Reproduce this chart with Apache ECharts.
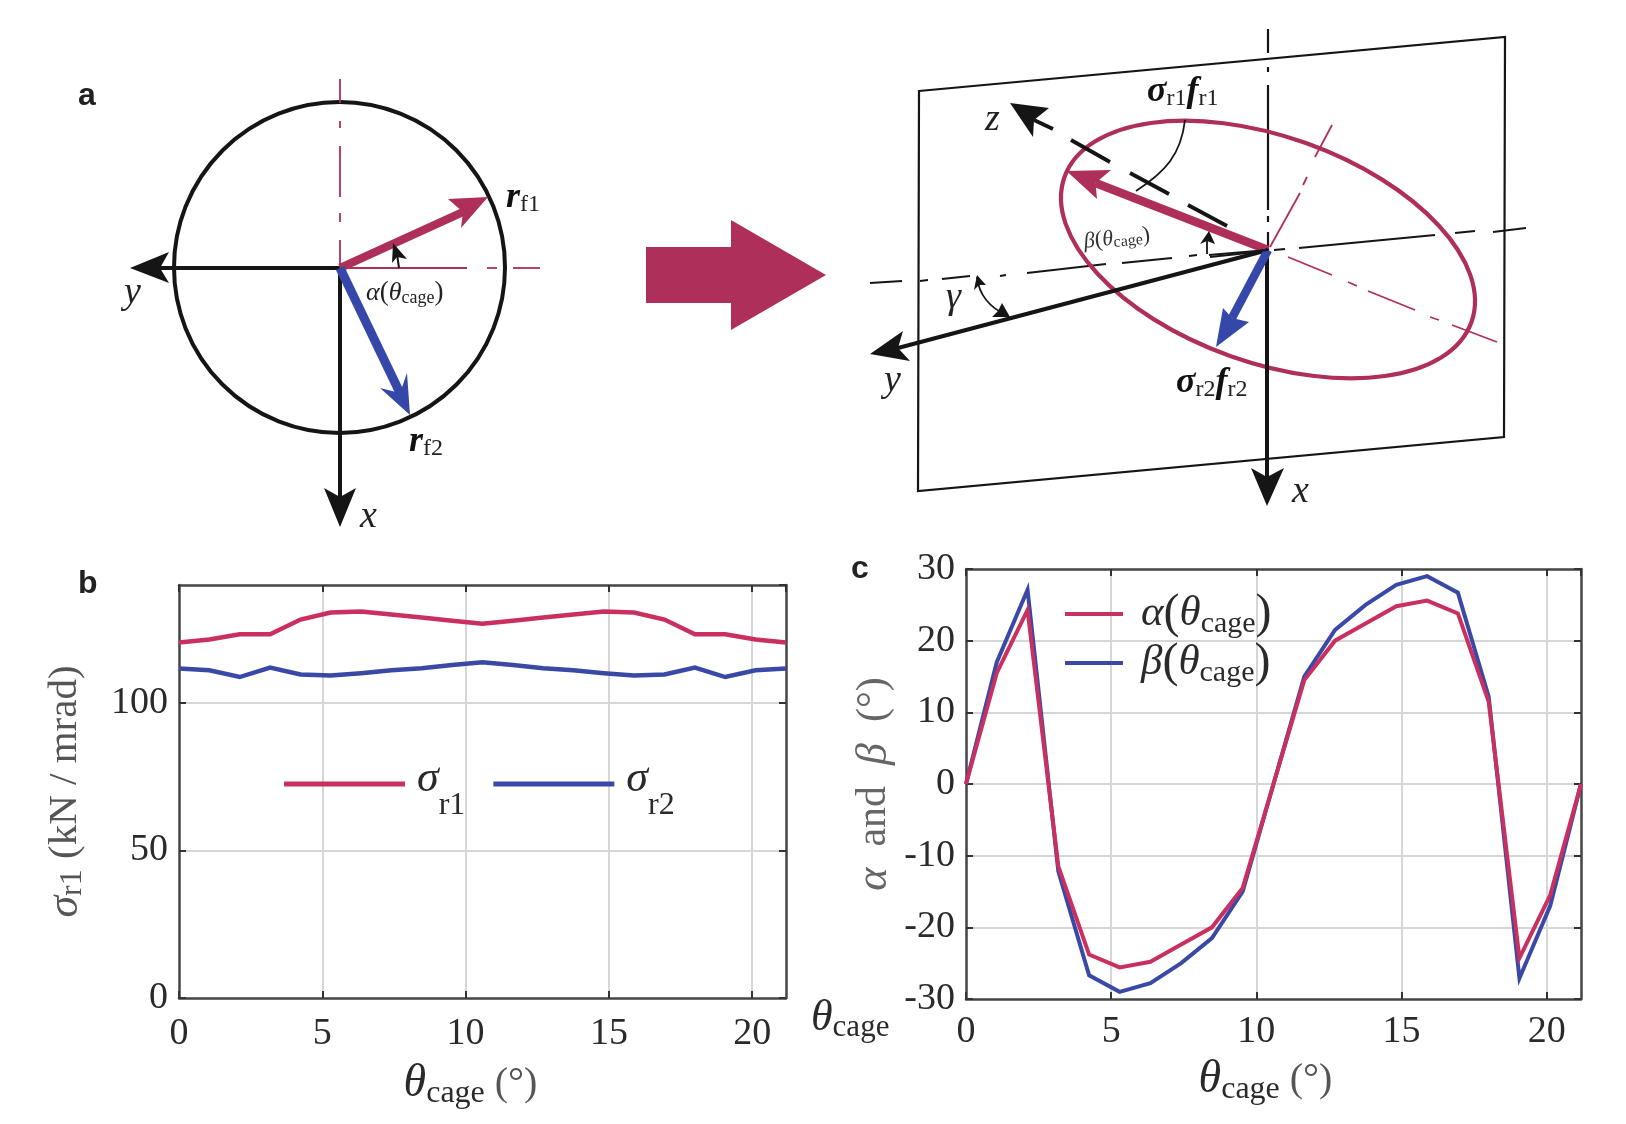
<!DOCTYPE html>
<html>
<head>
<meta charset="utf-8">
<style>html,body{margin:0;padding:0;background:#fff}#chart{width:1626px;height:1124px}</style>
<script src="https://cdn.jsdelivr.net/npm/echarts@6/dist/echarts.min.js"></script>
</head>
<body>
<div id="chart"></div>
<script>
// Cage angle over one ball pitch, degrees
const thetaCage = [0,1.06,2.12,3.18,4.24,5.29,6.35,7.41,8.47,9.53,10.59,11.65,12.71,13.76,14.82,15.88,16.94,18,19.06,20.12,21.18];
// Principal radial stiffness, kN/mrad
const sigmaR1 = [120.5,121.5,123.3,123.3,128.3,130.7,131,130,129,127.9,126.9,127.9,129,130,131,130.7,128.3,123.3,123.3,121.5,120.5];
const sigmaR2 = [111.7,111.1,108.8,112,109.7,109.3,110.1,111.1,111.8,112.9,113.8,112.9,111.8,111.1,110.1,109.3,109.7,112,108.8,111.1,111.7];
// Principal direction angles, degrees
const alphaDeg = [0,15.5,24.3,-11.5,-23.8,-25.6,-24.8,-22.4,-20,-14.5,0,14.5,20,22.4,24.8,25.6,23.8,11.5,-24.3,-15.5,0];
const betaDeg = [0,17,27.1,-12.2,-26.7,-29,-27.8,-25,-21.5,-15,0,15,21.5,25,27.8,29,26.7,12.2,-27.1,-17,0];
const thetaTicks = {min:0,max:21.18,interval:5};
const stiffTicks = {min:0,max:140,interval:50};
const angleTicks = {min:-30,max:30,interval:10};

const SERIF = 'Liberation Serif';
const MAROON = '#ae2f5a', RED = '#c9305f', BLUE = '#3a49a6', ARROW_BLUE = '#3547a8', INK = '#151515', FRAME = '#454545', GRIDC = '#d6d6d6', TXT = '#2a2a2a';

const pairs = (xs, ys) => xs.map((x, i) => [x, ys[i]]);

function xAxes(gridIndex, nameGap, labelMargin, rightPad) {
  const base = {type:'value', gridIndex, min:thetaTicks.min, max:thetaTicks.max, interval:thetaTicks.interval,
    axisLine:{show:true,onZero:false,lineStyle:{color:FRAME,width:2.5}},
    axisTick:{show:true,inside:true,length:7,lineStyle:{color:'#333',width:2}}};
  return [
    Object.assign({}, base, {position:'bottom', name:'{t|θ}{s|cage}{n| (°)}', nameLocation:'middle', nameGap,
      nameTextStyle:{padding:[0,rightPad,0,0],rich:{t:{fontFamily:SERIF,fontStyle:'italic',fontSize:46,color:TXT},s:{fontFamily:SERIF,fontSize:32,color:TXT,padding:[20,0,0,0]},n:{fontFamily:SERIF,fontSize:40,color:'#555'}}},
      axisLabel:{show:true,fontFamily:SERIF,fontSize:38,color:TXT,margin:labelMargin,showMaxLabel:false},
      splitLine:{show:true,showMaxLine:false,showMinLine:false,lineStyle:{color:GRIDC,width:2}}}),
    Object.assign({}, base, {position:'top', axisLabel:{show:false}, splitLine:{show:false}})
  ];
}
function yAxes(gridIndex, ticks, nameOpt, labelMargin) {
  const base = {type:'value', gridIndex, min:ticks.min, max:ticks.max, interval:ticks.interval,
    axisLine:{show:true,onZero:false,lineStyle:{color:FRAME,width:2.5}},
    axisTick:{show:true,inside:true,length:7,lineStyle:{color:'#333',width:2}}};
  return [
    Object.assign({}, base, nameOpt, {position:'left', nameLocation:'middle', nameRotate:90,
      axisLabel:{show:true,fontFamily:SERIF,fontSize:38,color:TXT,margin:labelMargin,showMaxLabel:ticks.max%ticks.interval===0},
      splitLine:{show:true,showMaxLine:false,showMinLine:false,lineStyle:{color:GRIDC,width:2}}}),
    Object.assign({}, base, {position:'right', axisLabel:{show:false}, splitLine:{show:false}})
  ];
}

const lineSeries = (name, xIdx, yIdx, ys, color, width) => ({
  name, type:'line', xAxisIndex:xIdx, yAxisIndex:yIdx, data:pairs(thetaCage, ys),
  showSymbol:false, symbol:'none', smooth:false, lineStyle:{color, width, join:'miter'}, itemStyle:{color}, z:5, animation:false
});

/* ---- schematic helpers ---- */
const stroke = (color, width) => ({stroke:color, lineWidth:width, fill:null, lineCap:'butt', lineJoin:'miter'});
const seg = (p, q, color, width) => ({type:'line', silent:true, shape:{x1:p[0],y1:p[1],x2:q[0],y2:q[1]}, style:stroke(color,width)});
const segs = (list, color, width) => list.map(s => seg([s[0],s[1]],[s[2],s[3]],color,width));
const head = (pts, color) => ({type:'polygon', silent:true, shape:{points:pts}, style:{fill:color, stroke:null}});
const richFor = {
  it:{fontFamily:SERIF,fontStyle:'italic',fontSize:38,fill:'#222'},
  rom:{fontFamily:SERIF,fontSize:24,fill:'#222',padding:[14,0,0,0]},
  bi:{fontFamily:SERIF,fontStyle:'italic',fontWeight:'bold',fontSize:36,fill:'#111'},
  sm:{fontFamily:SERIF,fontSize:27,fill:'#222'},
  smi:{fontFamily:SERIF,fontStyle:'italic',fontSize:26,fill:'#222'},
  smsub:{fontFamily:SERIF,fontSize:18,fill:'#222',padding:[10,0,0,0]},
  xs:{fontFamily:SERIF,fontSize:23,fill:'#333'},
  xsi:{fontFamily:SERIF,fontStyle:'italic',fontSize:22,fill:'#333'},
  xssub:{fontFamily:SERIF,fontSize:16,fill:'#333',padding:[8,0,0,0]},
  big:{fontFamily:SERIF,fontStyle:'italic',fontSize:44,fill:TXT},
  bigsub:{fontFamily:SERIF,fontSize:31,fill:TXT,padding:[20,0,0,0]}
};
const label = (x, y, text, extra) => ({type:'text', x, y, silent:true, z:20, style:Object.assign({
  text, rich:richFor, fill:'#222', font:'34px "'+SERIF+'"', align:'left', verticalAlign:'middle'}, extra||{})});
const panelTag = (x, y, text) => ({type:'text', x, y, silent:true, style:{text, fill:'#222', font:'bold 32px "Liberation Sans"', align:'left', verticalAlign:'middle'}});

/* Panel a: ball circle with the two principal stiffness directions */
const panelA = [
  {type:'circle', silent:true, shape:{cx:339.5,cy:267.5,r:165.5}, style:stroke(INK,4)},
  ...segs([[340,79,340,103],[340,121,340,128],[340,146,340,197],[340,213,340,222],[340,240,340,268],
           [340,268,467,268],[487,268,497,268],[513,268,540,268]], MAROON, 1.8),
  seg([340,268],[160,268],INK,4),
  head([[130,268],[169,252],[160,268],[169,283]],INK),
  seg([340,266],[340,497],INK,4),
  head([[340,527],[324,488],[340,497],[356,488]],INK),
  seg([340,268],[463,212],MAROON,8),
  head([[488,197],[448,199],[463,212],[461,228]],MAROON),
  seg([340,268],[400,393],ARROW_BLUE,9),
  head([[410,415],[380,388],[400,393],[407,373]],ARROW_BLUE),
  seg([399,268],[397,254],INK,2),
  head([[393,243],[392,263],[397,257],[407,259]],INK),
  label(124,293,'{it|y}'),
  label(360,517,'{it|x}'),
  label(506,198,'{bi|r}{rom|f1}'),
  label(409,442,'{bi|r}{rom|f2}'),
  label(366,293,'{smi|α}{sm|(}{smi|θ}{smsub|cage}{sm|)}'),
  panelTag(78,96,'a')
];

/* Arrow leading from the circular section to the tilted section */
const bigArrow = head([[646,247],[731,247],[731,220],[826,275],[731,330],[731,303],[646,303]], MAROON);

/* Tilted plane with the stiffness ellipse */
const panelPlane = [
  {type:'polygon', silent:true, shape:{points:[[919,91],[1505,37],[1504,437],[918,491]]}, style:stroke(INK,2.2)},
  ...segs([[1268,29,1268,53],[1268,67,1268,72],[1268,85,1268,210],[1268,216,1268,222],[1268,232,1268,250]], INK, 2.2),
  ...segs([[1299,248,1435,235],[1455,233,1475,231],[1493,232,1526,228],[1274,250,1285,249],[1210,257,1266,251],[1189,256,1197,255],
           [1122,263,1172,258],[1027,273,1106,264],[1000,276,1006,275],[942,279,970,276],[920,281,928,280],[870,283,902,281]], INK, 2.2),
  ...segs([[1270,247,1300,193],[1303,185,1307,177],[1315,157,1332,125],[1288,257,1332,275],[1348,282,1357,286],[1368,291,1415,310],[1430,317,1439,320],[1452,325,1497,342]], MAROON, 1.8),
  {type:'ellipse', silent:true, x:1268, y:249.5, rotation:-19.6*Math.PI/180, shape:{cx:0,cy:0,rx:216,ry:113}, style:stroke(MAROON,4.2)},
  ...segs([[1227,226,1188,205],[1169,194,1130,173],[1110,162,1071,140],[1053,129,1034,120]], INK, 3.8),
  head([[1010,103],[1049,108],[1034,120],[1033,137]],INK),
  {type:'bezierCurve', silent:true, shape:{x1:1185,y1:120,x2:1136,y2:191,cpx1:1181,cpy1:155,cpx2:1165,cpy2:172}, style:stroke(INK,1.8)},
  seg([1268,250],[1095.5,183],MAROON,8.5),
  head([[1066.5,171],[1111,170],[1095.5,183],[1097,199]],MAROON),
  seg([1268,250],[898,348],INK,4),
  head([[870,354],[903,331],[898,348],[910,361]],INK),
  seg([1267,250],[1267,477],INK,4),
  head([[1267,506],[1251,468],[1267,477],[1284,468]],INK),
  seg([1268,250],[1232,318],ARROW_BLUE,8.5),
  head([[1216,347],[1223,308],[1232,318],[1249,322]],ARROW_BLUE),
  seg([1268,250],[1209,255],INK,1.8),
  seg([1207,254],[1207,240],INK,1.8),
  head([[1209,231],[1200,244],[1207,241],[1215,244]],INK),
  {type:'bezierCurve', silent:true, shape:{x1:977,y1:277,x2:1008,y2:316,cpx1:979,cpy1:295,cpx2:990,cpy2:308}, style:stroke(INK,1.8)},
  head([[977,275],[974,290],[979,285],[986,285]],INK),
  head([[1010,317],[992,317],[998,311],[1002,303]],INK),
  label(985,120,'{it|z}'),
  label(884,381,'{it|y}'),
  label(1292,492,'{it|x}'),
  label(946,298,'{it|γ}'),
  {type:'text', x:1084, y:242, rotation:6*Math.PI/180, silent:true, z:20, style:{
    text:'{xsi|β}{xs|(}{xsi|θ}{xssub|cage}{xs|)}', rich:richFor, fill:'#222', align:'left', verticalAlign:'middle'}},
  label(1147,92,'{bi|σ}{rom|r1}{bi|f}{rom|r1}'),
  label(1176,383,'{bi|σ}{rom|r2}{bi|f}{rom|r2}')
];

const option = {
  backgroundColor:'#fff',
  animation:false,
  textStyle:{fontFamily:SERIF},
  grid:[
    {left:179,top:585,width:607,height:413},
    {left:966,top:569,width:615,height:430}
  ],
  xAxis:[...xAxes(0,60,17,24),...xAxes(1,55,14,16)],
  yAxis:[
    ...yAxes(0,stiffTicks,{name:'{g|σ}{s|r1}{n| (kN / mrad)}',nameGap:90,nameTextStyle:{rich:{
      g:{fontFamily:SERIF,fontStyle:'italic',fontSize:44,color:'#555'},
      s:{fontFamily:SERIF,fontSize:32,color:'#555',padding:[16,0,0,0]},
      n:{fontFamily:SERIF,fontSize:41,color:'#555'}}}},11),
    ...yAxes(1,angleTicks,{name:'{g|α}{n|  and  }{g|β}{n|  (°)}',nameGap:70,nameTextStyle:{rich:{
      g:{fontFamily:SERIF,fontStyle:'italic',fontSize:44,color:'#666'},
      n:{fontFamily:SERIF,fontSize:42,color:'#666'}}}},11)
  ],
  legend:[
    {orient:'horizontal', left:284, top:757, itemWidth:121, itemHeight:5, itemGap:28, padding:0, icon:'rect',
     selectedMode:false, data:['σ r1','σ r2'],
     formatter:n => '{g|σ}{s|'+n.slice(2)+'}',
     textStyle:{rich:{g:{fontFamily:SERIF,fontStyle:'italic',fontSize:44,color:TXT,padding:[0,0,10,7]},s:{fontFamily:SERIF,fontSize:32,color:TXT,padding:[44,0,0,0]}}}},
    {orient:'vertical', left:1065, top:590, itemWidth:58, itemHeight:4, itemGap:0, padding:0, icon:'rect',
     selectedMode:false, data:['α','β'],
     formatter:n => '{h|'+n+'}{p|(}{g|θ}{s|cage}{p|)}',
     textStyle:{rich:{h:{fontFamily:SERIF,fontStyle:'italic',fontSize:43,color:TXT,padding:[0,0,0,13]},g:{fontFamily:SERIF,fontStyle:'italic',fontSize:43,color:TXT},p:{fontFamily:SERIF,fontSize:48,color:TXT},s:{fontFamily:SERIF,fontSize:30,color:TXT,padding:[20,0,0,0]}}}}
  ],
  series:[
    lineSeries('σ r2',0,0,sigmaR2,BLUE,4.5),
    lineSeries('σ r1',0,0,sigmaR1,RED,4.5),
    lineSeries('β',2,2,betaDeg,BLUE,4),
    lineSeries('α',2,2,alphaDeg,RED,4)
  ],
  graphic:{elements:[
    ...panelA, bigArrow, ...panelPlane,
    panelTag(78,584,'b'),
    panelTag(851,569,'c'),
    label(811,1018,'{big|θ}{bigsub|cage}')
  ]}
};

const chart = echarts.init(document.getElementById('chart'),null,{renderer:'canvas'});
chart.setOption(option);
</script>
</body>
</html>
